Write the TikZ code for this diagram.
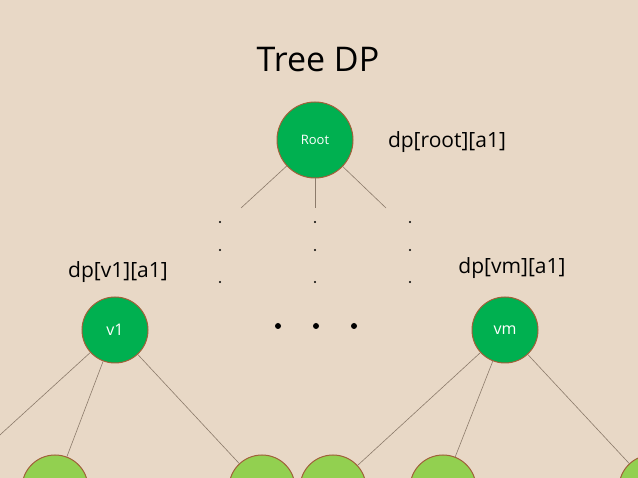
\documentclass[tikz,border=0pt]{standalone}
\usepackage{fontspec}
\setmainfont{Open Sans}
\definecolor{bg}{HTML}{E8D8C6}
\definecolor{dg}{HTML}{00B050}
\definecolor{lg}{HTML}{92D050}
\definecolor{rim}{HTML}{A0603A}
\definecolor{ln}{HTML}{8C7B6B}
\begin{document}
\begin{tikzpicture}[x=1pt,y=-1pt,
  big/.style={circle,fill=dg,draw=rim,line width=1pt,minimum size=76pt,inner sep=0pt,text=white,font=\fontsize{13}{15}\selectfont},
  mid/.style={circle,fill=dg,draw=rim,line width=1pt,minimum size=66pt,inner sep=0pt,text=white,font=\fontsize{16}{18}\selectfont},
  leaf/.style={circle,fill=lg,draw=rim,line width=1pt,minimum size=66pt,inner sep=0pt},
  lbl/.style={font=\fontsize{21}{24}\selectfont,text=black},
  edge/.style={draw=ln,line width=0.6pt}]
\fill[bg] (0,0) rectangle (638,478);
\useasboundingbox (0,0) rectangle (638,478);
\clip (0,0) rectangle (638,478);
\node[font=\fontsize{34}{38}\selectfont] (title) at (318,60) {Tree DP};
\node[big] (root) at (315,140) {Root};
\node[lbl] (lr) at (447,142) {dp[root][a1]};
\coordinate (e1) at (241,208);
\coordinate (e2) at (315,208);
\coordinate (e3) at (386,208);
\draw[edge] (root) -- (e1);
\draw[edge] (root) -- (e2);
\draw[edge] (root) -- (e3);
\foreach \x in {220,315,410}{
  \foreach \y in {222,250,282}{\fill (\x,\y) circle (1.2pt);}}
\foreach \x in {278,316,354}{\fill (\x,326) circle (3pt);}
\node[lbl] (l1) at (118,272) {dp[v1][a1]};
\node[lbl] (lm) at (512,268) {dp[vm][a1]};
\node[mid] (v1) at (115,330) {v1};
\node[mid] (vm) at (505,330) {vm};
\node[leaf] (a) at (55,488) {};
\node[leaf] (b) at (262,488) {};
\node[leaf] (c) at (333,488) {};
\node[leaf] (d) at (443,488) {};
\node[leaf] (f) at (652,488) {};
\coordinate (o) at (-10,444);
\draw[edge] (v1) -- (o);
\draw[edge] (v1) -- (a);
\draw[edge] (v1) -- (b);
\draw[edge] (vm) -- (c);
\draw[edge] (vm) -- (d);
\draw[edge] (vm) -- (f);
\end{tikzpicture}
\end{document}
